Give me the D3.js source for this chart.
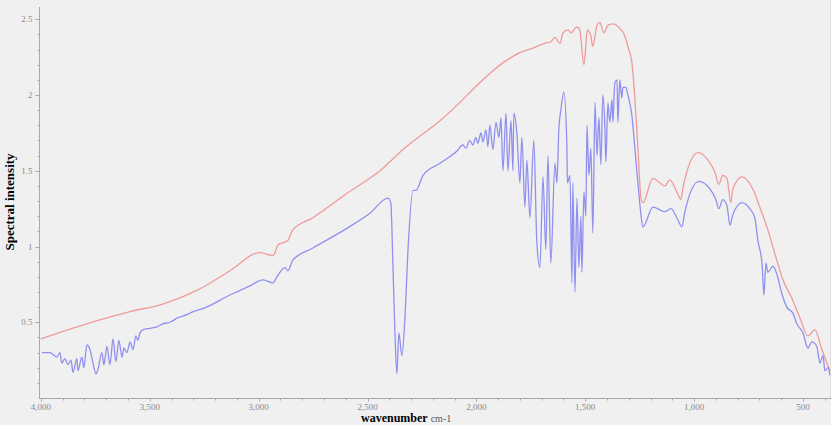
<!DOCTYPE html>
<html><head><meta charset="utf-8">
<script src="https://cdn.jsdelivr.net/npm/d3@7"></script>
<style>
html,body{margin:0;padding:0;background:#ffffff;}
svg{display:block;}
</style></head>
<body>
<svg id="chart" width="831" height="427"></svg>
<script>
// ---- data ----
const redWavenumber = [4000,3742,3591,3440,3284,3132,2994,2934,2911,2866,2843,2751,2595,2443,2337,2167,1860,1800,1740,1690,1660,1639,1616,1602,1579,1566,1538,1525,1506,1492,1488,1474,1465,1446,1433,1414,1396,1373,1341,1318,1304,1286,1272,1258,1244,1235,1189,1134,1111,1079,1060,1051,982,936,904,886,868,849,831,822,780,730,698,661,620,592,551,514,477,445,413,376];
const redIntensity  = [0.39,0.51,0.57,0.62,0.71,0.84,0.96,0.94,1.01,1.04,1.11,1.19,1.35,1.50,1.64,1.83,2.23,2.28,2.31,2.34,2.35,2.38,2.34,2.41,2.43,2.41,2.45,2.43,2.20,2.41,2.43,2.39,2.32,2.46,2.48,2.41,2.46,2.47,2.44,2.39,2.32,2.22,1.98,1.65,1.32,1.29,1.45,1.40,1.44,1.36,1.31,1.39,1.62,1.57,1.49,1.41,1.47,1.45,1.29,1.38,1.46,1.38,1.26,1.11,0.91,0.78,0.66,0.53,0.41,0.45,0.32,0.18];

const blueWavenumber = [3995,3959,3927,3913,3904,3890,3876,3862,3853,3835,3830,3812,3803,3789,3775,3761,3747,3738,3720,3711,3697,3683,3669,3656,3642,3628,3619,3605,3591,3577,3564,3555,3545,3532,3499,3467,3440,3408,3371,3330,3300,3256,3132,3040,2980,2934,2916,2879,2866,2843,2751,2595,2489,2406,2393,2383,2374,2365,2356,2342,2328,2314,2291,2278,2245,2167,2089,2062,2048,2030,2016,2002,1993,1979,1970,1956,1947,1938,1924,1910,1896,1887,1878,1864,1855,1841,1832,1828,1814,1800,1791,1777,1768,1754,1736,1722,1708,1694,1681,1671,1658,1639,1630,1621,1612,1598,1584,1582,1570,1561,1557,1547,1538,1529,1520,1515,1506,1497,1492,1483,1474,1465,1455,1446,1437,1428,1419,1410,1405,1396,1387,1377,1373,1364,1354,1350,1341,1332,1327,1313,1304,1286,1272,1258,1244,1235,1189,1134,1106,1079,1056,1042,978,927,900,886,868,849,835,822,780,744,721,707,688,679,670,661,638,620,597,574,546,528,500,477,459,436,422,408,399,385,376];
const blueIntensity  = [0.30,0.30,0.27,0.30,0.23,0.26,0.22,0.25,0.17,0.26,0.18,0.27,0.20,0.35,0.32,0.23,0.16,0.19,0.30,0.22,0.34,0.22,0.39,0.24,0.38,0.27,0.33,0.30,0.37,0.32,0.41,0.38,0.43,0.45,0.46,0.47,0.49,0.50,0.53,0.55,0.57,0.59,0.68,0.74,0.78,0.76,0.80,0.86,0.84,0.91,0.99,1.12,1.22,1.32,1.29,0.86,0.43,0.16,0.43,0.28,0.53,0.98,1.37,1.37,1.47,1.55,1.63,1.67,1.65,1.70,1.67,1.72,1.68,1.75,1.69,1.77,1.66,1.80,1.64,1.82,1.72,1.85,1.50,1.88,1.50,1.83,1.50,1.88,1.75,1.42,1.72,1.26,1.57,1.19,1.70,1.02,0.86,1.46,0.98,1.60,0.89,1.55,1.42,1.78,1.90,2.02,1.65,1.42,1.47,0.76,1.42,0.70,1.32,0.86,1.20,0.83,1.36,1.20,1.80,1.47,1.65,1.09,1.95,1.60,1.85,1.54,2.00,1.80,1.56,1.95,1.82,1.97,1.82,2.08,2.10,1.82,2.10,1.98,2.05,2.05,2.00,1.87,1.65,1.42,1.21,1.13,1.26,1.23,1.25,1.19,1.13,1.23,1.43,1.38,1.31,1.25,1.31,1.27,1.14,1.21,1.29,1.25,1.19,1.04,0.89,0.68,0.89,0.83,0.87,0.82,0.69,0.60,0.56,0.49,0.43,0.33,0.37,0.34,0.23,0.28,0.18,0.20,0.15];

const xTickValues = [4000,3500,3000,2500,2000,1500,1000,500];
const yTickValues = [0.5,1,1.5,2,2.5];
const xTitle = "wavenumber";
const xUnit = "cm-1";
const yTitle = "Spectral intensity";

// ---- layout ----
const W = 831, H = 427;
const svg = d3.select("#chart");
svg.append("rect").attr("x",0).attr("y",0).attr("width",W).attr("height",425).attr("fill","#f0f0f0");

const x = d3.scaleLinear().domain([4009, 371]).range([39, 831]);
const y = d3.scaleLinear().domain([0, 2.581]).range([398, 7]);

const axisColor = "#a8a8a8";
const labelColor = "#8a8a8a";
const fontTick = "'Liberation Serif', 'DejaVu Serif', serif";

// right frame edge
svg.append("line").attr("x1",830.5).attr("x2",830.5).attr("y1",0).attr("y2",398)
  .attr("stroke","#dcdcdc").attr("stroke-width",1);

// minor ticks
const xMinor = d3.range(4000, 371, -100);
const yMinor = d3.range(1, 26).map(d => d/10);

const gx = svg.append("g").attr("transform","translate(0,398.5)");
gx.append("line").attr("x1",39).attr("x2",831).attr("stroke",axisColor);
gx.selectAll("line.minor").data(xMinor).join("line").attr("class","minor")
  .attr("x1",d=>Math.round(x(d))+0.5).attr("x2",d=>Math.round(x(d))+0.5)
  .attr("y1",0).attr("y2",d=> d%500===0 ? 3 : 2).attr("stroke",axisColor);
gx.selectAll("text").data(xTickValues).join("text")
  .attr("x",d=>x(d)).attr("y",11)
  .attr("text-anchor","middle").attr("font-family",fontTick).attr("font-size",9)
  .attr("fill",labelColor).text(d=>d3.format(",")(d));

const gy = svg.append("g").attr("transform","translate(39.5,0)");
gy.append("line").attr("y1",7).attr("y2",398.5).attr("stroke",axisColor);
gy.selectAll("line.minor").data(yMinor).join("line").attr("class","minor")
  .attr("y1",d=>Math.round(y(d))+0.5).attr("y2",d=>Math.round(y(d))+0.5)
  .attr("x1",0).attr("x2",d=> Math.abs(d*2-Math.round(d*2))<1e-6 ? -4 : -2).attr("stroke",axisColor);
gy.selectAll("text").data(yTickValues).join("text")
  .attr("x",-7).attr("y",d=>y(d)+3)
  .attr("text-anchor","end").attr("font-family",fontTick).attr("font-size",9)
  .attr("fill",labelColor).text(d=>d3.format("")(d));

// titles
svg.append("text").attr("transform","translate(14,202) rotate(-90)")
  .attr("text-anchor","middle").attr("font-family","'Liberation Serif', serif")
  .attr("font-weight","bold").attr("font-size",13).attr("fill","#000").text(yTitle);
const xt = svg.append("text").attr("x",361).attr("y",422)
  .attr("font-family","'Liberation Serif', serif").attr("font-size",12);
xt.append("tspan").attr("font-weight","bold").attr("fill","#000").text(xTitle);
xt.append("tspan").attr("dx",3).attr("font-size",10).attr("fill","#555").text(xUnit);

// lines
const line = d3.line().x(d=>x(d[0])).y(d=>y(d[1])).curve(d3.curveMonotoneX);
const redData = redWavenumber.map((w,i)=>[w, redIntensity[i]]);
const blueData = blueWavenumber.map((w,i)=>[w, blueIntensity[i]]);
svg.append("clipPath").attr("id","clip").append("rect")
  .attr("x",39).attr("y",0).attr("width",792).attr("height",398);
svg.append("path").datum(redData).attr("d",line).attr("fill","none")
  .attr("stroke","#f09a9a").attr("stroke-width",1.3).attr("clip-path","url(#clip)");
svg.append("path").datum(blueData).attr("d",line).attr("fill","none")
  .attr("stroke","#9090f0").attr("stroke-width",1.3).attr("clip-path","url(#clip)");
</script>
</body></html>
